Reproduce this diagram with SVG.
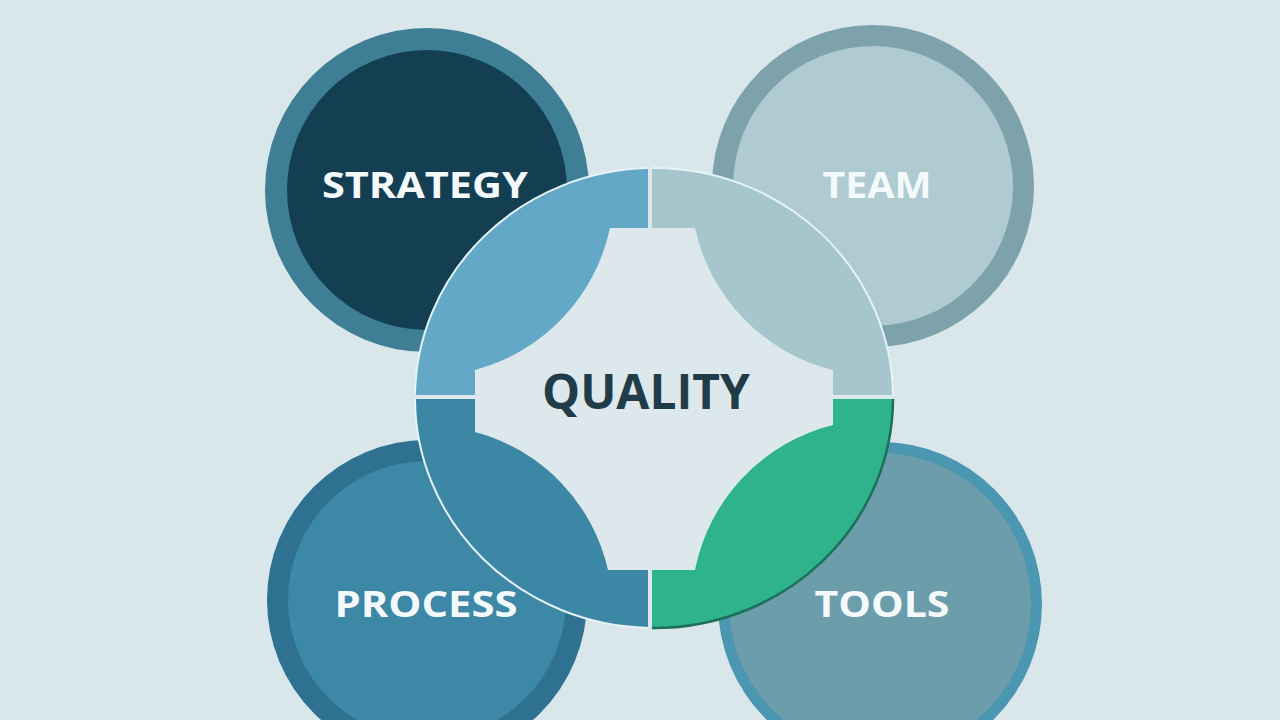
<svg xmlns="http://www.w3.org/2000/svg" width="1280" height="720" viewBox="0 0 1280 720">
  <style>
    .lbl { font-family: "Open Sans", "Liberation Sans", sans-serif; font-weight: 700; fill: #f4fafb; font-size: 36px; text-anchor: middle; }
    .center { font-family: "Open Sans", "Liberation Sans", sans-serif; font-weight: 700; fill: #1f3c48; font-size: 48px; text-anchor: middle; }
    .hi { fill: none; stroke: #e6f3f6; stroke-width: 2; }
  </style>
  <rect width="1280" height="720" fill="#d9e6ea"/>

  <g id="strategy">
    <circle cx="427" cy="190" r="162" fill="#3e7f95"/>
    <circle cx="427" cy="190" r="140" fill="#143f53"/>
    <text class="lbl" x="425" y="198" textLength="206" lengthAdjust="spacingAndGlyphs">STRATEGY</text>
  </g>
  <g id="team">
    <circle cx="873" cy="186" r="161" fill="#7ea2ac"/>
    <circle cx="873" cy="186" r="140" fill="#afcad0"/>
    <text class="lbl" x="877" y="198" textLength="109" lengthAdjust="spacingAndGlyphs">TEAM</text>
  </g>
  <g id="process">
    <circle cx="427" cy="600" r="160" fill="#2e7190"/>
    <circle cx="427" cy="600" r="139" fill="#3d87a7"/>
    <text class="lbl" x="426" y="617" textLength="183" lengthAdjust="spacingAndGlyphs">PROCESS</text>
  </g>
  <g id="tools">
    <circle cx="880" cy="604" r="162" fill="#4b96b1"/>
    <circle cx="880" cy="604" r="151" fill="#6b9dab"/>
    <text class="lbl" x="882" y="617" textLength="135" lengthAdjust="spacingAndGlyphs">TOOLS</text>
  </g>

  <g id="quality">
    <ellipse cx="654" cy="398" rx="236" ry="227" fill="#dce8eb"/>
    <path id="q-strategy" d="M648,168.1 L648,228 L610,228 A187,187 0 0 1 475,370 L475,395 L415,395 A239,230 0 0 1 648,168.1 Z" fill="#63a9c7"/>
    <path id="q-team" d="M652,168 A239,230 0 0 1 893,395 L833,395 L833,370 A187,187 0 0 1 695,228 L652,228 Z" fill="#a6c6cd"/>
    <path id="q-process" d="M415,399 L475,399 L475,432 A185,185 0 0 1 608,570 L648,570 L648,627.9 A239,230 0 0 1 415,399 Z" fill="#3c87a6"/>
    <path id="q-tools" d="M652,628 L652,570 L695,570 A187,187 0 0 1 833,425 L833,399 L893,399 A239,230 0 0 1 652,628 Z" fill="#2fb38b"/>
    <path class="hi" d="M415,395 A239,230 0 0 1 648,168.1"/>
    <path class="hi" d="M652,168 A239,230 0 0 1 893,395"/>
    <path class="hi" d="M648,627.9 A239,230 0 0 1 415,399"/>
    <path d="M893,399 A239,230 0 0 1 652,628" fill="none" stroke="#1d6f5c" stroke-width="2.5"/>
    <text class="center" x="646" y="409" textLength="208" lengthAdjust="spacingAndGlyphs">QUALITY</text>
  </g>
</svg>
